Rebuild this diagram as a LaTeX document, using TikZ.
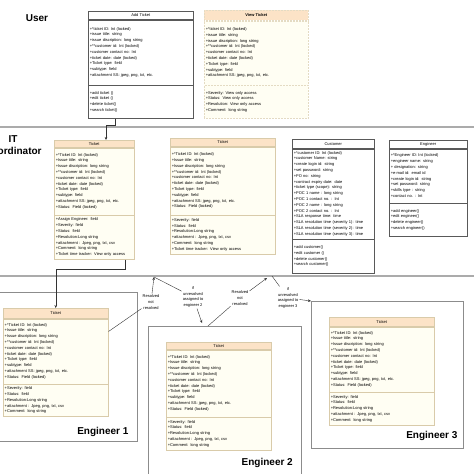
\documentclass[tikz,border=0pt]{standalone}
\usepackage{fontspec}
\setmainfont{Liberation Sans}
\usepackage{tikz}
\usetikzlibrary{positioning}
\usetikzlibrary{calc}
\usetikzlibrary{arrows.meta}
\definecolor{peach}{HTML}{FCE3C7}
\definecolor{cream}{HTML}{FFFEF3}
\definecolor{tan}{HTML}{D9CBAA}
\definecolor{sepgray}{HTML}{ABABAB}
\tikzset{box/.style={draw=black!65, line width=0.5pt, fill=white, inner xsep=1.5pt, inner ysep=1pt, align=left, font=\fontsize{4}{5.8}\selectfont}}
\tikzset{hdr/.style={box, align=center}}
\tikzset{tkt/.style={box, draw=tan, fill=cream}}
\tikzset{tkthdr/.style={tkt, fill=peach, align=center}}
\tikzset{viewbox/.style={tkt, draw=tan!70, densely dotted}}
\tikzset{frame/.style={draw=black!45, line width=0.6pt, inner sep=0pt, anchor=north west}}
\tikzset{sep/.style={draw=sepgray, line width=1.3pt}}
\tikzset{flow/.style={draw=black!80, line width=0.4pt, -{Stealth[length=3pt,width=2.6pt]}}}
\tikzset{title/.style={font=\bfseries\fontsize{10}{12}\selectfont, align=center, inner sep=0pt}}
\tikzset{note/.style={font=\fontsize{4}{5.7}\selectfont, align=center, inner sep=1pt}}

\newcommand{\tktfields}{+*Ticket ID: Int (locked)\\+Issue title: string\\+Issue discription: long string\\+**customer id: Int (locked)\\+customer contact no: Int\\+ticket date: date (locked)\\+Ticket type: field\\+subtype: field\\+attachment SS: jpeg, png, txt, etc.\\+Status: Field (locked)}
\newcommand{\engfields}{+Severity: field\\+Status: field\\+Resolution:Long string\\+attachment : Jpeg, png, txt, csv\\+Comment: long string}

\begin{document}
\begin{tikzpicture}[x=1pt, y=-1pt]
\useasboundingbox (0,0) rectangle (474,474);
\fill[white] (0,0) rectangle (474,474);

% lanes
\draw[sep] (0,127) -- (474,127);
\draw[sep] (0,276) -- (474,276);
\coordinate (s1) at (154,277);
\coordinate (s2) at (267,278);
\coordinate (s3) at (272,276);

% user
\node[title] (usr) at (37,18) {User};
\node[hdr, text width=102pt, minimum height=8pt, anchor=north west] (addh) at (88,11) {Add Ticket};
\node[box, text width=102pt, minimum height=65pt, below=0pt of addh] (adda) {+*ticket ID: Int (locked)\\+issue title: string\\+issue discription: long string\\+**customer id: Int (locked)\\+customer contact no: Int\\+ticket date: date (locked)\\+Ticket type: field\\+subtype: field\\+attachment SS: jpeg, png, txt, etc.};
\node[box, text width=102pt, minimum height=33pt, below=0pt of adda] (addm) {+add ticket ()\\+edit ticket ()\\+delete ticket()\\+search ticket()};

\node[viewbox, fill=peach, align=center, text width=101pt, minimum height=10pt, anchor=north west] (vwh) at (204,10) {\bfseries View Ticket};
\node[viewbox, text width=101pt, minimum height=64pt, below=0pt of vwh] (vwa) {+*ticket ID: Int (locked)\\+issue title: string\\+issue discription: long string\\+**customer id: Int (locked)\\+customer contact no: Int\\+ticket date: date (locked)\\+Ticket type: field\\+subtype: field\\+attachment SS: jpeg, png, txt, etc.};
\node[viewbox, text width=101pt, minimum height=33pt, below=0pt of vwa] (vwm) {+Severity: View only access\\+Status: View only access\\+Resolution: View only access\\+Comment: long string};

% it coordinator
\node[title] (itc) at (13,145) {IT\\Coordinator};
\node[tkthdr, text width=77pt, minimum height=7pt, anchor=north west] (ith1) at (54,140) {Ticket};
\node[tkt, text width=77pt, minimum height=67pt, below=0pt of ith1] (ita1) {\tktfields};
\node[tkt, text width=77pt, minimum height=44pt, below=0pt of ita1] (itm1) {+Assign Engineer: field\\+Severity: field\\+Status: field\\+Resolution:Long string\\+attachment : Jpeg, png, txt, csv\\+Comment: long string\\+Ticket time tracker: View only access};

\node[tkthdr, text width=102pt, minimum height=8pt, anchor=north west] (ith2) at (170,138) {Ticket};
\node[tkt, text width=102pt, minimum height=68pt, below=0pt of ith2] (ita2) {\tktfields};
\node[tkt, text width=102pt, minimum height=39pt, below=0pt of ita2] (itm2) {+Severity: field\\+Status: field\\+Resolution:Long string\\+attachment : Jpeg, png, txt, csv\\+Comment: long string\\+Ticket time tracker: View only access};

\node[hdr, text width=79pt, minimum height=9pt, anchor=north west] (cush) at (292,139) {Customer};
\node[box, text width=79pt, minimum height=90pt, below=0pt of cush] (cusa) {+*customer ID: Int (locked)\\+customer Name: string\\+create login id: string\\+set password: string\\+PO no: string\\+contract expiry date: date\\+ticket type (scope): string\\+POC 1 name : long string\\+POC 1 contact no. : Int\\+POC 2 name : long string\\+POC 2 contact no. : Int\\+SLA response time: time\\+SLA resolution time (severity 1): time\\+SLA resolution time (severity 2): time\\+SLA resolution time (severity 3): time};
\node[box, text width=79pt, minimum height=34pt, below=0pt of cusa] (cusm) {+add customer()\\+edit customer ()\\+delete customer()\\+search customer()};

\node[hdr, text width=75pt, minimum height=8pt, anchor=north west] (engh) at (389,140) {Engineer};
\node[box, text width=75pt, minimum height=54pt, below=0pt of engh] (enga) {+*Engineer ID: Int (locked)\\+engineer name: string\\+ designation: string\\+e-mail id: email id\\+create login id: string\\+set password: string\\+skills type : string\\+contact no. : Int};
\node[box, text width=75pt, minimum height=33pt, below=0pt of enga] (engm) {+add engineer()\\+edit engineer()\\+delete engineer()\\+search engineer()};

% engineers
\node[frame, minimum width=142pt, minimum height=149pt] (e1) at (-5,292) {};
\node[frame, minimum width=153pt, minimum height=154pt] (e2) at (148,326) {};
\node[frame, minimum width=152pt, minimum height=147pt] (e3) at (311,301) {};
\node[title, above left=5pt and 9pt of e1.south east] (e1t) {Engineer 1};
\node[title, anchor=east] (e2t) at (293,463) {Engineer 2};
\node[title, above left=8pt and 6pt of e3.south east] (e3t) {Engineer 3};

\node[tkthdr, text width=102pt, minimum height=10pt, anchor=north west] (t1h) at (3,308) {Ticket};
\node[tkt, text width=102pt, minimum height=65pt, below=0pt of t1h] (t1a) {\tktfields};
\node[tkt, text width=102pt, minimum height=32pt, below=0pt of t1a] (t1m) {\engfields};

\node[tkthdr, text width=102pt, minimum height=7pt, anchor=north west] (t2h) at (166,342) {Ticket};
\node[tkt, text width=102pt, minimum height=67pt, below=0pt of t2h] (t2a) {\tktfields};
\node[tkt, text width=102pt, minimum height=33pt, below=0pt of t2a] (t2m) {\engfields};

\node[tkthdr, text width=102pt, minimum height=9pt, anchor=north west] (t3h) at (329,317) {Ticket};
\node[tkt, text width=102pt, minimum height=65pt, below=0pt of t3h] (t3a) {\tktfields};
\node[tkt, text width=102pt, minimum height=33pt, below=0pt of t3a] (t3m) {\engfields};

% labels on the links
\node[note] (r1) at (151,302) {Resolved\\not\\resolved};
\node[note] (u2) at (193,297) {if\\unresolved\\assigned to\\engineer 2};
\node[note] (r2) at (240,298) {Resolved\\not\\resolved};
\node[note] (u3) at (288,298) {if\\unresolved\\assigned to\\engineer 3};

% links
\draw[flow] ($(addm.south west)+(27,0)$) -- ++(0,7) -| ($(ith1.north west)+(52,0)$);
\draw[flow] ($(itm1.south west)+(71,0)$) -- ++(0,10) -| (t1h.north);
\draw[flow] ($(t1a.north east)+(0,13)$) -- (r1) -- (s1);
\draw[flow] (s1) -- (u2) -- ($(e2.north west)+(54,-3)$);
\draw[flow] ($(e2.north west)+(60,0)$) -- (r2) -- (s2);
\draw[flow] (s3) -- (u3) -- (e3.north west);
\end{tikzpicture}
\end{document}
